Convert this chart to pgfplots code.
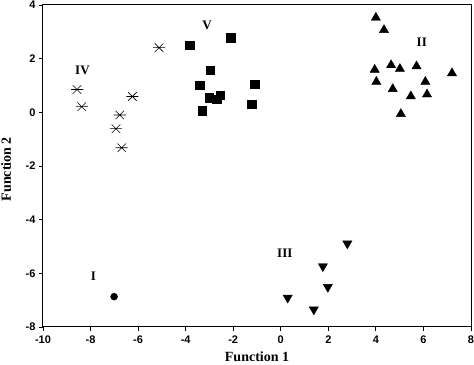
\documentclass[border=0pt]{standalone}
\usepackage{fontspec}
\setmainfont{Liberation Serif}
\newfontfamily\arialf{Liberation Sans}
\usepackage{pgfplots}
\pgfplotsset{compat=1.18}
\pgfdeclareplotmark{xstar}{%
  \pgfpathmoveto{\pgfpointpolar{45}{\pgfplotmarksize}}%
  \pgfpathlineto{\pgfpointpolar{225}{\pgfplotmarksize}}%
  \pgfpathmoveto{\pgfpointpolar{135}{\pgfplotmarksize}}%
  \pgfpathlineto{\pgfpointpolar{315}{\pgfplotmarksize}}%
  \pgfpathmoveto{\pgfpointpolar{0}{\pgfplotmarksize}}%
  \pgfpathlineto{\pgfpointpolar{180}{\pgfplotmarksize}}%
  \pgfusepathqstroke}
\begin{document}
\begin{tikzpicture}
\begin{axis}[
  scale only axis, width=428pt, height=322pt,
  xmin=-10, xmax=8, ymin=-8, ymax=4,
  xtick={-10,-8,...,8}, ytick={-8,-6,...,4},
  xtick pos=bottom, ytick pos=left, tick align=outside,
  major tick length=4pt,
  axis line style={line width=1pt}, tick style={line width=0.8pt, black},
  /pgf/number format/assume math mode=true,
  tick label style={font=\arialf\bfseries\fontsize{11}{13}\selectfont},
  xticklabel style={yshift=-1pt},
  xlabel={Function 1}, ylabel={Function 2},
  label style={font=\bfseries\fontsize{14}{16}\selectfont},
  xlabel style={at={(axis description cs:0.5,-0.092)}, anchor=center},
  ylabel style={at={(axis description cs:-0.0864,0.49)}, anchor=center},
  clip=false,
]
% Group IV
\addplot[only marks, mark=xstar, mark size=6pt, mark options={line width=0.6pt}] coordinates {
(-8.57,0.85) (-8.37,0.21) (-6.77,-0.10) (-6.93,-0.61) (-6.69,-1.32) (-6.24,0.59) (-5.12,2.41)};
% Group V
\addplot[only marks, mark=square*, mark size=4.2pt, black] coordinates {
(-3.83,2.50) (-2.10,2.78) (-2.96,1.56) (-3.41,1.00) (-3.00,0.54) (-2.70,0.48) (-2.55,0.63) (-3.31,0.06) (-1.09,1.04) (-1.23,0.31)};
% Group II
\addplot[only marks, mark=triangle*, mark size=5.3pt, black] coordinates {
(4.00,3.53) (4.34,3.07) (3.95,1.59) (4.64,1.76) (5.01,1.62) (5.71,1.72) (4.02,1.14) (4.71,0.87) (6.08,1.14) (5.47,0.60) (6.15,0.67) (5.05,-0.06) (7.20,1.46)};
% Group III
\addplot[only marks, mark=triangle*, mark size=5.3pt, black, mark options={rotate=180}] coordinates {
(2.80,-4.89) (1.77,-5.74) (1.98,-6.51) (0.29,-6.91) (1.39,-7.35)};
% Group I
\addplot[only marks, mark=*, mark size=3.5pt, black] coordinates {(-7.01,-6.87)};
\begin{scope}[every node/.style={font=\bfseries\fontsize{13}{15}\selectfont}]
\node at (axis cs:-3.10,3.25) {V};
\node at (axis cs:-8.34,1.56) {IV};
\node at (axis cs:5.93,2.62) {II};
\node at (axis cs:0.17,-5.24) {III};
\node at (axis cs:-7.88,-6.10) {I};
\end{scope}
\end{axis}
\pgfresetboundingbox
\path[use as bounding box] ([shift={(-43pt,-38pt)}]current axis.south west) rectangle ([shift={(3pt,5pt)}]current axis.north east);
\end{tikzpicture}
\end{document}
